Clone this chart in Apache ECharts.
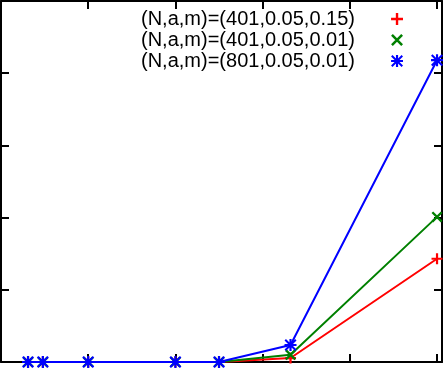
<!DOCTYPE html>
<html>
<head>
<meta charset="utf-8">
<script src="https://cdn.jsdelivr.net/npm/echarts@6/dist/echarts.min.js"></script>
<style>
html, body { margin: 0; padding: 0; background: #fff; }
#chart { width: 444px; height: 369px; }
</style>
</head>
<body>
<div id="chart"></div>
<script>
// values
var seriesNames = ['(N,a,m)=(401,0.05,0.15)', '(N,a,m)=(401,0.05,0.01)', '(N,a,m)=(801,0.05,0.01)'];
var xVals = [0.31, 0.48, 1, 2, 2.5, 3.32, 5];
var redVals = [0, 0, 0, 0, 0, 0.055, 1.43];
var greenVals = [0, 0, 0, 0, 0, 0.1, 2.01];
var blueVals = [0, 0, 0, 0, 0, 0.235, 4.18];
var colors = ['#ff0000', '#008000', '#0000ff'];

// gnuplot point shapes as polygons in a 10x10 box
var plusPoly = [[[4,0],[6,0],[6,4],[10,4],[10,6],[6,6],[6,10],[4,10],[4,6],[0,6],[0,4],[4,4]]];
var crossPoly = [[[0,1.5],[1.5,0],[10,8.5],[8.5,10]], [[8.5,0],[10,1.5],[1.5,10],[0,8.5]]];
var starPoly = [[[4.1,0],[5.9,0],[5.9,4.1],[10,4.1],[10,5.9],[5.9,5.9],[5.9,10],[4.1,10],[4.1,5.9],[0,5.9],[0,4.1],[4.1,4.1]],
  [[0,1.2],[1.2,0],[10,8.8],[8.8,10]], [[8.8,0],[10,1.2],[1.2,10],[0,8.8]]];

function toPath(polys, dx) {
  var s = dx ? 'M0,5 ' : '';
  s += polys.map(function (p) {
    return 'M' + p.map(function (q) { return (q[0] + dx) + ',' + q[1]; }).join('L') + 'Z';
  }).join(' ');
  return 'path://' + s;
}
var shapes = [plusPoly, crossPoly, starPoly];

function pairs(ys) {
  return xVals.map(function (x, i) { return [x, ys[i]]; });
}

var chart = echarts.init(document.getElementById('chart'));

var axisCommon = {
  type: 'value',
  axisLine: { show: true, onZero: false, lineStyle: { color: '#000', width: 2 } },
  axisTick: { show: true, inside: true, length: 8, lineStyle: { color: '#000', width: 2 } },
  axisLabel: { show: false },
  splitLine: { show: false }
};

chart.setOption({
  animation: false,
  grid: { left: 1, right: 2, top: 1, bottom: 7 },
  legend: {
    orient: 'vertical',
    right: 41,
    top: 9,
    padding: 0,
    align: 'right',
    itemWidth: 43,
    itemHeight: 12,
    itemGap: 1,
    selectedMode: false,
    textStyle: { fontFamily: 'Liberation Sans', fontSize: 20, lineHeight: 20, color: '#000' },
    data: seriesNames.map(function (n, i) {
      return { name: n, icon: toPath(shapes[i], 26), itemStyle: { color: colors[i], borderWidth: 0 } };
    })
  },
  xAxis: [
    Object.assign({}, axisCommon, { position: 'bottom', min: 0, max: 5.057, interval: 1 }),
    Object.assign({}, axisCommon, { position: 'top', min: 0, max: 5.057, interval: 1 })
  ],
  yAxis: [
    Object.assign({}, axisCommon, { position: 'left', min: 0, max: 5, interval: 1 }),
    Object.assign({}, axisCommon, { position: 'right', min: 0, max: 5, interval: 1 })
  ],
  series: [redVals, greenVals, blueVals].map(function (vals, i) {
    return {
      name: seriesNames[i],
      type: 'line',
      data: pairs(vals),
      symbol: toPath(shapes[i], 0),
      symbolSize: i === 2 ? 12 : 11,
      showAllSymbol: true,
      clip: false,
      z: 2 + i,
      color: colors[i],
      lineStyle: { color: colors[i], width: 2 },
      itemStyle: { color: colors[i], borderWidth: 0 }
    };
  })
});
</script>
</body>
</html>
